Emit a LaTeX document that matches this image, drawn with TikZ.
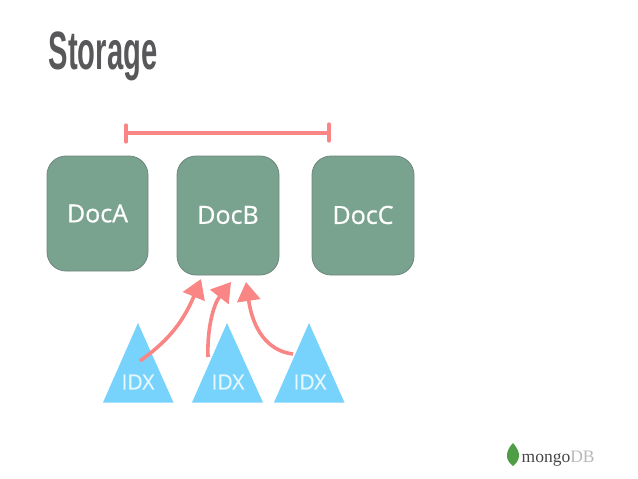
\documentclass[tikz,border=0pt]{standalone}
\usepackage{fontspec}
\usepackage{graphicx}
\setmainfont{Open Sans}
\newfontfamily\titlefont{Liberation Sans}
\newfontfamily\logofont{Liberation Serif}
\newfontfamily\docfont[FakeBold=0.6]{Open Sans}
\usetikzlibrary{arrows.meta}
\definecolor{docgreen}{HTML}{7AA38F}
\definecolor{docedge}{HTML}{6E8580}
\definecolor{idxblue}{HTML}{77D3FC}
\definecolor{redline}{HTML}{F98585}
\definecolor{titlegray}{HTML}{58585A}
\definecolor{leafgreen}{HTML}{4F9E45}
\tikzset{
  x=1pt,y=-1pt,
  docbox/.style={draw=docedge,line width=0.8pt,fill=docgreen,rounded corners=19pt,inner sep=0pt},
  doclabel/.style={text=white,inner sep=0pt,font=\docfont\fontsize{25}{28}\selectfont},
  idxtri/.style={fill=idxblue,draw=none},
  idxlabel/.style={text=white!82!idxblue,inner sep=0pt,font=\docfont\fontsize{21}{24}\selectfont},
  linkarrow/.style={draw=redline,line width=3.6pt,line cap=butt,
    -{Triangle[length=19pt,width=23pt,fill=redline]}},
  spanline/.style={draw=redline,line width=3.2pt,line cap=round},
}
\begin{document}
\begin{tikzpicture}
\useasboundingbox (0,0) rectangle (638,479);
\node[anchor=base west,inner sep=0pt,text=titlegray] (title) at (48.5,69)
  {\scalebox{0.54}[1]{\titlefont\bfseries\fontsize{54}{58}\selectfont Storage}};

\node[docbox,minimum width=101pt,minimum height=115pt] (docA) at (97.5,213.5) {};
\node[docbox,minimum width=102pt,minimum height=119pt] (docB) at (228,215.5) {};
\node[docbox,minimum width=102pt,minimum height=119pt] (docC) at (363,215.5) {};
\node[doclabel] (labA) at (97.5,213.5) {DocA};
\node[doclabel] (labB) at (228,215) {DocB};
\node[doclabel] (labC) at (363,215) {DocC};

% span bracket
\coordinate (spanL) at (126,133);
\coordinate (spanR) at (329,133);
\coordinate (spanLt) at (126,125);
\coordinate (spanLb) at (126,142);
\coordinate (spanRt) at (329,124);
\coordinate (spanRb) at (329,141);
\draw[spanline] (spanL) -- (spanR);
\draw[spanline] (spanLt) -- (spanLb);
\draw[spanline] (spanRt) -- (spanRb);

% index triangles
\fill[idxtri] (138,323) -- (173.5,402.5) -- (103,402.5) -- cycle;
\fill[idxtri] (227,323) -- (263,402.5) -- (192,402.5) -- cycle;
\fill[idxtri] (309,323) -- (344.5,402.5) -- (274,402.5) -- cycle;
\node[idxlabel] (idxA) at (138,382) {IDX};
\node[idxlabel] (idxB) at (228,382) {IDX};
\node[idxlabel] (idxC) at (310,382) {IDX};

% arrows
\coordinate (fromA) at (140,361);
\coordinate (toA) at (201,279);
\coordinate (fromB) at (208,357);
\coordinate (toB) at (231,282);
\coordinate (fromC) at (293,354);
\coordinate (toC) at (246,282);
\draw[linkarrow] (fromA) .. controls (165,343) and (182,325) .. (toA);
\draw[linkarrow] (fromB) .. controls (207,330) and (213,305) .. (toB);
\draw[linkarrow] (fromC) .. controls (268,351) and (253,330) .. (toC);

% logo
\fill[leafgreen] (513,443) .. controls (509,447) and (506.5,452) .. (507,457)
  .. controls (507.5,461) and (510.5,464) .. (513,466)
  .. controls (515.5,464) and (518.5,461) .. (519,456.5)
  .. controls (519.5,452) and (516.5,447) .. (513,443) -- cycle;
\node[anchor=base west,inner sep=0pt,font=\logofont\fontsize{17.5}{20}\selectfont] (logo) at (521.5,462)
  {\textcolor{black!72}{mongo}\textcolor{black!28}{DB}};
\end{tikzpicture}
\end{document}
